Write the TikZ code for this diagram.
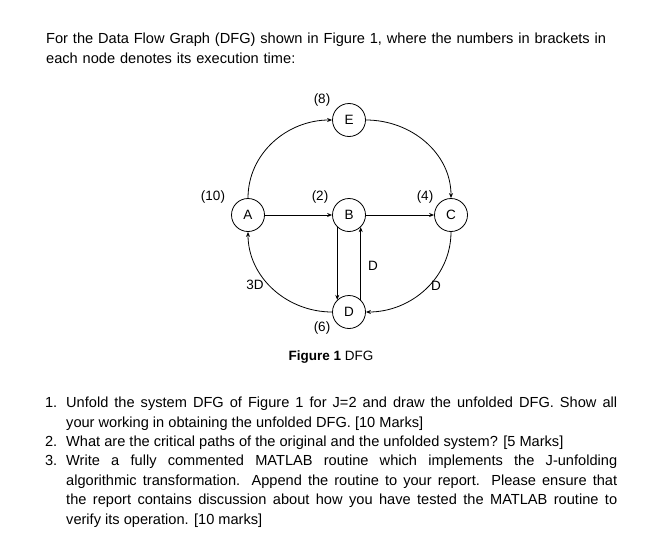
\documentclass[tikz,border=0pt]{standalone}
\usepackage{fontspec}
\setmainfont{Liberation Sans}
\usetikzlibrary{arrows.meta}
\begin{document}
\begin{tikzpicture}[x=1pt,y=-1pt,
  vtx/.style={draw,circle,minimum size=33pt,inner sep=0pt,font=\fontsize{13.5}{15}\selectfont,line width=0.8pt},
  lbl/.style={font=\fontsize{13.5}{15}\selectfont,inner sep=0pt},
  edge/.style={line width=0.8pt,-{Stealth[length=5pt,width=4pt]}},
  para/.style={anchor=north west,inner sep=0pt,font=\fontsize{14.6}{19.4}\selectfont}]
\useasboundingbox (0,0) rectangle (662,538);
\node[para,text width=600pt,align=left] (intro) at (46,33) {For the Data Flow Graph (DFG) shown in Figure 1, where the numbers in brackets in\\ each node denotes its execution time:};
\node[vtx] (A) at (248,215) {A};
\node[vtx] (B) at (349,215) {B};
\node[vtx] (C) at (451,215) {C};
\node[vtx] (E) at (349,120) {E};
\node[vtx] (D) at (349,312) {D};
\draw[edge] (A) -- (B);
\draw[edge] (B) -- (C);
\draw[edge] (B.-134) -- (D.134);
\draw[edge] (D.46) -- (B.-46);
\draw[edge] (A.north) to[out=90,in=180] (E.west);
\draw[edge] (E.east) to[out=0,in=90] (C.north);
\draw[edge] (C.south) to[out=-90,in=0] (D.east);
\draw[edge] (D.west) to[out=180,in=-90] (A.south);
\node[lbl] (lE) at (322,100) {(8)};
\node[lbl] (lA) at (213,197) {(10)};
\node[lbl] (lB) at (320,197) {(2)};
\node[lbl] (lC) at (425,197) {(4)};
\node[lbl] (lD) at (322,328) {(6)};
\node[lbl] (dBD) at (373,266) {D};
\node[lbl] (d3) at (255,285) {3D};
\node[lbl] (dCD) at (436,286) {D};
\node[lbl] (cap) at (331,357) {\textbf{Figure 1} DFG};
\node[para,text width=551pt,align=justify] (q) at (66,397) {\hyphenpenalty=10000\exhyphenpenalty=10000%
\llap{1.\hspace{9pt}}Unfold the system DFG of Figure 1 for J=2 and draw the unfolded DFG. Show all\linebreak your working in obtaining the unfolded DFG. [10 Marks]\\
\llap{2.\hspace{9pt}}What are the critical paths of the original and the unfolded system? [5 Marks]\\
\llap{3.\hspace{9pt}}Write a fully commented MATLAB routine which implements the J-unfolding\linebreak algorithmic transformation. Append the routine to your report. Please ensure that\linebreak the report contains discussion about how you have tested the MATLAB routine to\linebreak verify its operation. [10 marks]};
\end{tikzpicture}
\end{document}
